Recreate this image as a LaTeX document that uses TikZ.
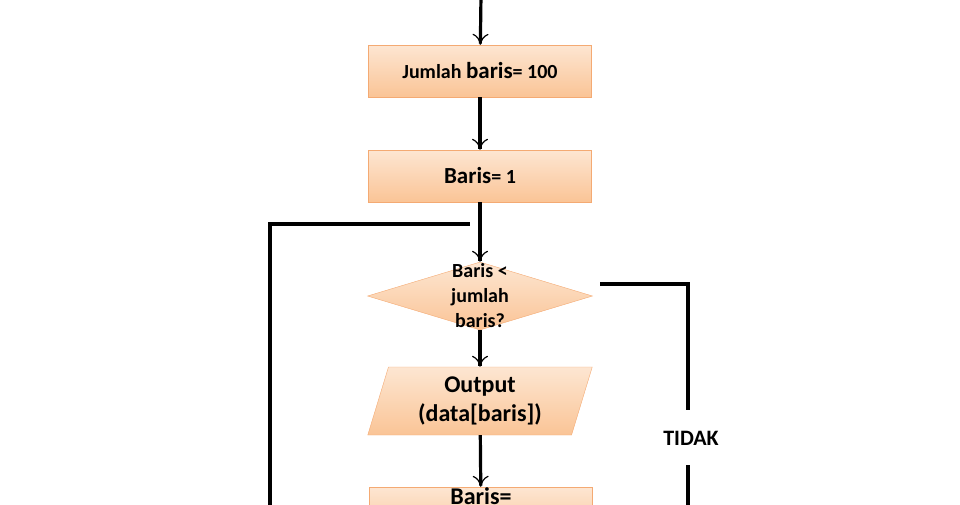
\documentclass[tikz,border=0pt]{standalone}
\usepackage{fontspec}
\setmainfont{Carlito}
\usetikzlibrary{shapes.geometric,arrows.meta,positioning}
\definecolor{boxtop}{RGB}{253,230,210}
\definecolor{boxbot}{RGB}{250,196,150}
\definecolor{boxline}{RGB}{244,170,115}
\tikzset{
  blok/.style={draw=boxline,top color=boxtop,bottom color=boxbot,minimum width=223pt,minimum height=52pt,font=\bfseries\fontsize{20}{24}\selectfont},
  flow/.style={line width=3.2pt,-{To[length=11pt,width=16pt,line width=1.2pt]}},
  wire/.style={line width=3.2pt}
}
\begin{document}
\begin{tikzpicture}[x=1pt,y=-1pt]
\useasboundingbox (0,0) rectangle (960,504);
\clip (0,0) rectangle (960,504);
%boxes
\node[blok] (jml) at (480,71) {Jumlah {\fontsize{23}{24}\selectfont baris}= 100};
\node[blok] (init) at (480,176) {{\fontsize{23}{24}\selectfont Baris}= 1};
\node[blok,diamond,inner sep=0pt,minimum width=225pt,minimum height=68pt] (cek) at (480,296) {};
\node[font=\bfseries\fontsize{20}{25}\selectfont,align=center] (cektxt) at (480,296) {Baris <\\jumlah\\baris?};
\node[blok,trapezium,trapezium left angle=75,trapezium right angle=105,trapezium stretches=true,
  minimum width=225pt,minimum height=68pt,align=center,font=\bfseries\fontsize{24}{29}\selectfont] (out) at (480,401) {Output\\(data[baris])};
\node[blok,minimum height=52pt] (inc) at (481,513) {};
\node[font=\bfseries\fontsize{24}{26}\selectfont,anchor=north] (inctxt) at (481,484) {Baris=};
%connectors
\coordinate (top) at (481,-5);
\draw[flow] (top) -- (jml);
\draw[flow] (jml) -- (init);
\draw[flow] (init) -- (cek);
\draw[flow] (cek) -- (out);
\draw[flow] (out) -- (inc);
%loop back
\coordinate (lp0) at (270,510);
\coordinate (lp1) at (470,224);
\draw[wire] (lp0) |- (lp1);
%tidak
\coordinate (td0) at (600,284);
\coordinate (td1) at (688,410);
\coordinate (td2) at (688,465);
\coordinate (td3) at (688,510);
\draw[wire] (td0) -| (td1);
\draw[wire] (td2) -- (td3);
\node[font=\bfseries\fontsize{22}{24}\selectfont] (tidak) at (691,438) {TIDAK};
\end{tikzpicture}
\end{document}
